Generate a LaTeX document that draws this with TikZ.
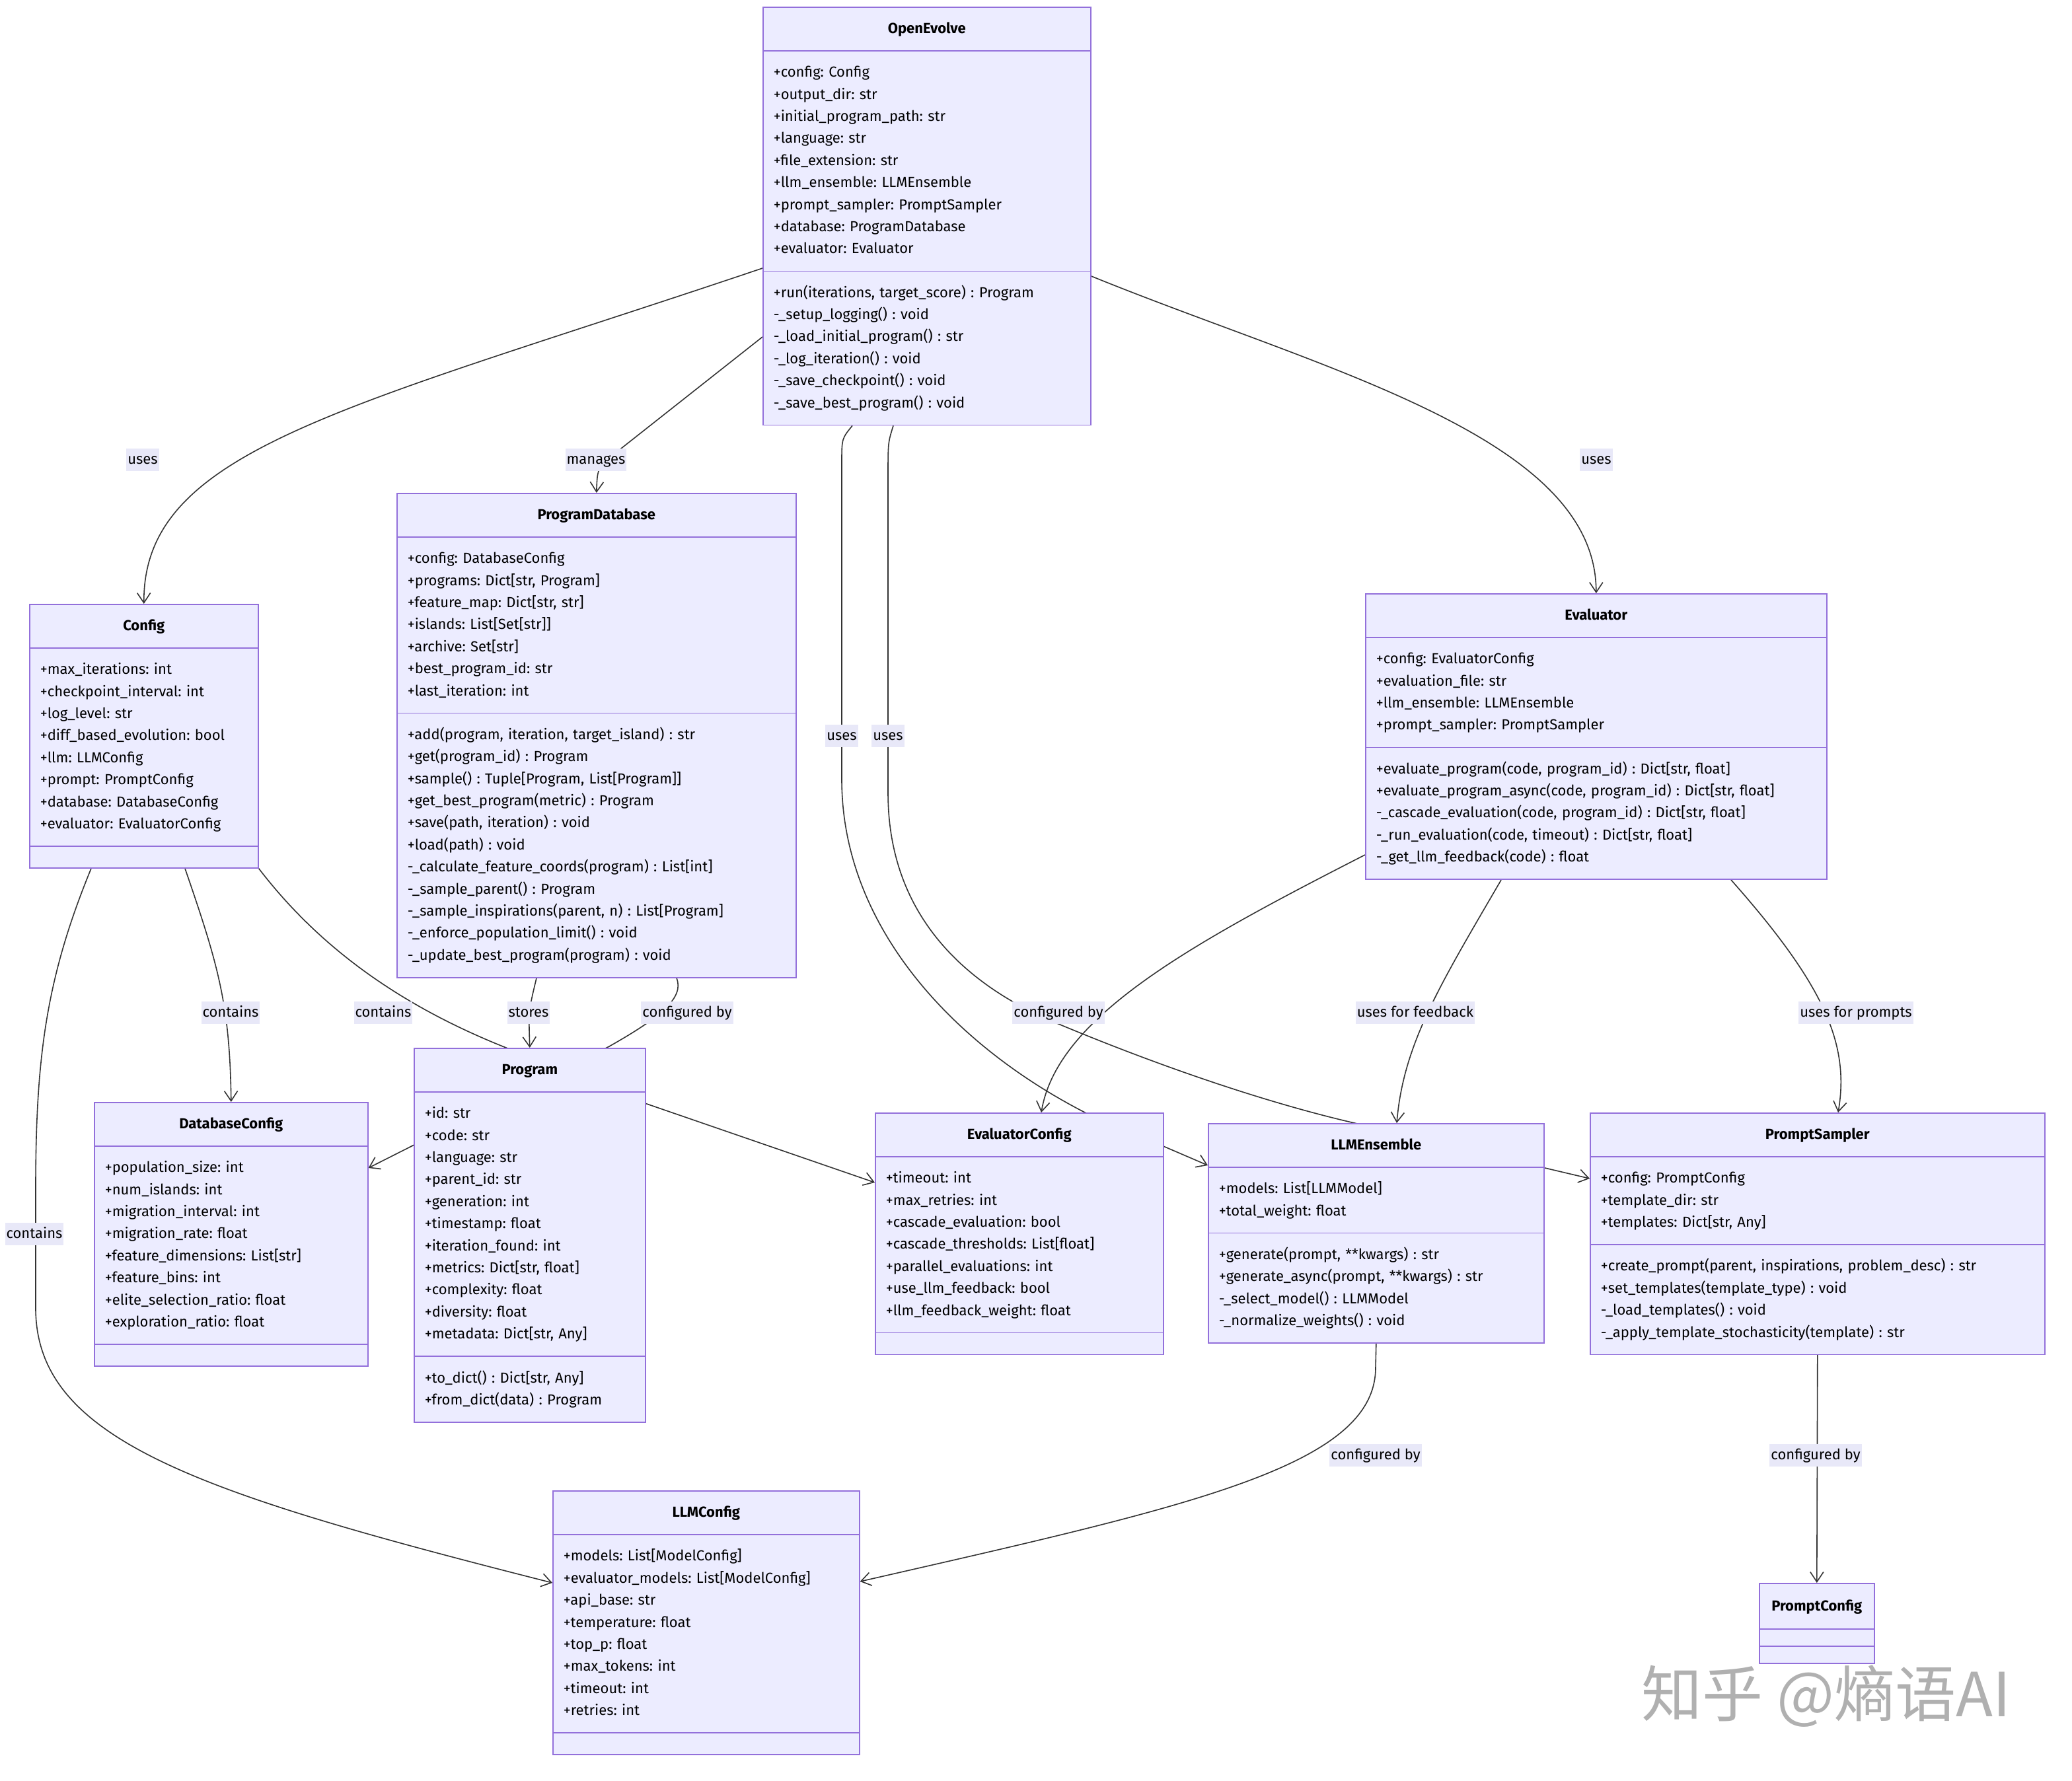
\documentclass[tikz,border=0pt]{standalone}
\usepackage{fontspec}
\setmainfont{Fira Sans}
\newfontfamily\wmfont{Noto Sans CJK SC}
\usetikzlibrary{arrows.meta}
\usetikzlibrary{shapes.multipart}
\usetikzlibrary{backgrounds}
\definecolor{umlfill}{HTML}{ECECFF}
\definecolor{umlline}{HTML}{9370DB}
\definecolor{linkcol}{HTML}{333333}
\definecolor{labfill}{HTML}{E8E8F8}
\definecolor{wmgray}{HTML}{B0B0B0}
\setlength{\parindent}{0pt}
\frenchspacing
\newcommand{\classfont}{\fontsize{11}{16.7}\selectfont}
\newcommand{\members}[1]{\begin{tabular}{@{}l@{}}#1\end{tabular}}
\newcommand{\ctitle}[1]{\makebox[\linewidth]{\textbf{#1}}\strut}
\tikzset{
  umlclass/.style={rectangle split, rectangle split parts=3,
    rectangle split empty part height=0pt, rectangle split empty part depth=0pt,
    draw=umlline, fill=umlfill, line width=0.8pt, anchor=north west,
    inner xsep=8pt, inner ysep=7.8pt, font=\classfont, text=black},
  lbl/.style={fill=labfill, inner xsep=1pt, inner ysep=0pt,
    text height=11.7pt, text depth=5pt, font=\classfont},
  link/.style={draw=linkcol, line width=0.8pt},
}

\begin{document}
\begin{tikzpicture}[x=1pt, y=-1pt, >={Straight Barb[length=7.5pt,width=10pt]}]
\useasboundingbox (0,0) rectangle (1568,1348);

\node[umlclass, text width=232pt] (OE) at (577,5) {\ctitle{OpenEvolve}
  \nodepart{two}\members{+config: Config\\ +output\_dir: str\\ +initial\_program\_path: str\\ +language: str\\ +file\_extension: str\\ +llm\_ensemble: LLMEnsemble\\ +prompt\_sampler: PromptSampler\\ +database: ProgramDatabase\\ +evaluator: Evaluator}
  \nodepart{three}\members{+run(iterations, target\_score) : Program\\ -\_setup\_logging() : void\\ -\_load\_initial\_program() : str\\ -\_log\_iteration() : void\\ -\_save\_checkpoint() : void\\ -\_save\_best\_program() : void}};

\node[umlclass, text width=157pt] (CFG) at (22,457) {\ctitle{Config}
  \nodepart{two}\members{+max\_iterations: int\\ +checkpoint\_interval: int\\ +log\_level: str\\ +diff\_based\_evolution: bool\\ +llm: LLMConfig\\ +prompt: PromptConfig\\ +database: DatabaseConfig\\ +evaluator: EvaluatorConfig}
  \nodepart{three}};

\node[umlclass, text width=286pt] (PD) at (300,373) {\ctitle{ProgramDatabase}
  \nodepart{two}\members{+config: DatabaseConfig\\ +programs: Dict[str, Program]\\ +feature\_map: Dict[str, str]\\ +islands: List[Set[str]]\\ +archive: Set[str]\\ +best\_program\_id: str\\ +last\_iteration: int}
  \nodepart{three}\members{+add(program, iteration, target\_island) : str\\ +get(program\_id) : Program\\ +sample() : Tuple[Program, List[Program]]\\ +get\_best\_program(metric) : Program\\ +save(path, iteration) : void\\ +load(path) : void\\ -\_calculate\_feature\_coords(program) : List[int]\\ -\_sample\_parent() : Program\\ -\_sample\_inspirations(parent, n) : List[Program]\\ -\_enforce\_population\_limit() : void\\ -\_update\_best\_program(program) : void}};

\node[umlclass, text width=333pt] (EV) at (1033,449) {\ctitle{Evaluator}
  \nodepart{two}\members{+config: EvaluatorConfig\\ +evaluation\_file: str\\ +llm\_ensemble: LLMEnsemble\\ +prompt\_sampler: PromptSampler}
  \nodepart{three}\members{+evaluate\_program(code, program\_id) : Dict[str, float]\\ +evaluate\_program\_async(code, program\_id) : Dict[str, float]\\ -\_cascade\_evaluation(code, program\_id) : Dict[str, float]\\ -\_run\_evaluation(code, timeout) : Dict[str, float]\\ -\_get\_llm\_feedback(code) : float}};

\node[umlclass, text width=159pt] (PRG) at (313,793) {\ctitle{Program}
  \nodepart{two}\members{+id: str\\ +code: str\\ +language: str\\ +parent\_id: str\\ +generation: int\\ +timestamp: float\\ +iteration\_found: int\\ +metrics: Dict[str, float]\\ +complexity: float\\ +diversity: float\\ +metadata: Dict[str, Any]}
  \nodepart{three}\members{+to\_dict() : Dict[str, Any]\\ +from\_dict(data) : Program}};

\node[umlclass, text width=191pt] (DBC) at (71,834) {\ctitle{DatabaseConfig}
  \nodepart{two}\members{+population\_size: int\\ +num\_islands: int\\ +migration\_interval: int\\ +migration\_rate: float\\ +feature\_dimensions: List[str]\\ +feature\_bins: int\\ +elite\_selection\_ratio: float\\ +exploration\_ratio: float}
  \nodepart{three}};

\node[umlclass, text width=202pt] (EVC) at (662,842) {\ctitle{EvaluatorConfig}
  \nodepart{two}\members{+timeout: int\\ +max\_retries: int\\ +cascade\_evaluation: bool\\ +cascade\_thresholds: List[float]\\ +parallel\_evaluations: int\\ +use\_llm\_feedback: bool\\ +llm\_feedback\_weight: float}
  \nodepart{three}};

\node[umlclass, text width=238pt] (LLME) at (914,850) {\ctitle{LLMEnsemble}
  \nodepart{two}\members{+models: List[LLMModel]\\ +total\_weight: float}
  \nodepart{three}\members{+generate(prompt, **kwargs) : str\\ +generate\_async(prompt, **kwargs) : str\\ -\_select\_model() : LLMModel\\ -\_normalize\_weights() : void}};

\node[umlclass, text width=328pt] (PS) at (1203,842) {\ctitle{PromptSampler}
  \nodepart{two}\members{+config: PromptConfig\\ +template\_dir: str\\ +templates: Dict[str, Any]}
  \nodepart{three}\members{+create\_prompt(parent, inspirations, problem\_desc) : str\\ +set\_templates(template\_type) : void\\ -\_load\_templates() : void\\ -\_apply\_template\_stochasticity(template) : str}};

\node[umlclass, text width=216pt] (LLMC) at (418,1128) {\ctitle{LLMConfig}
  \nodepart{two}\members{+models: List[ModelConfig]\\ +evaluator\_models: List[ModelConfig]\\ +api\_base: str\\ +temperature: float\\ +top\_p: float\\ +max\_tokens: int\\ +timeout: int\\ +retries: int}
  \nodepart{three}};

\node[umlclass, text width=71pt, inner ysep=6.15pt] (PC) at (1331,1198) {\makebox[\linewidth]{\rule[-7.35pt]{0pt}{21.4pt}\textbf{PromptConfig}}
  \nodepart{two}
  \nodepart{three}};

\node[lbl] (lUsesCfg) at (108,348) {uses};
\node[lbl] (lManages) at (451,348) {manages};
\node[lbl] (lUsesEv) at (1208,348) {uses};
\node[lbl] (lUsesLlm) at (637,557) {uses};
\node[lbl] (lUsesPs) at (672,557) {uses};
\node[lbl] (lContDb) at (174.5,766.5) {contains};
\node[lbl] (lContEv) at (290,766.5) {contains};
\node[lbl] (lStores) at (400,766.5) {stores};
\node[lbl] (lCfgDb) at (520,766.5) {configured by};
\node[lbl] (lCfgEv) at (801,766.5) {configured by};
\node[lbl] (lFeedback) at (1071,766.5) {uses for feedback};
\node[lbl] (lPrompts) at (1404.5,766.5) {uses for prompts};
\node[lbl] (lContLlm) at (26,934) {contains};
\node[lbl] (lCfgLlm) at (1041,1101.5) {configured by};
\node[lbl] (lCfgPc) at (1374,1101.5) {configured by};

\node[font=\wmfont\fontsize{46}{46}\selectfont, text=wmgray, inner sep=0pt] (wm) at (1382,1284) {知乎 @熵语AI};

\begin{scope}[on background layer]
\fill[white] (0,0) rectangle (1568,1348);
\draw[link,->] ([yshift=-198pt]OE.north west) .. controls (260,310) and (108,340) .. (CFG.north);
\draw[link,->] ([yshift=-250pt]OE.north west) -- (463,345) .. controls (452,355) .. (PD.north);
\draw[link,->] ([yshift=-204pt]OE.north east) .. controls (1000,280) and (1208,330) .. (EV.north);
\draw[link,->] ([xshift=68pt]OE.south west) .. controls (637,332) .. (637,350) -- (637,590)
  .. controls (637,700) and (720,790) .. (821,842) -- ([yshift=-32pt]LLME.north west);
\draw[link,->] ([xshift=99pt]OE.south west) .. controls (672,335) .. (672,360) -- (672,600)
  .. controls (672,700) and (740,750) .. (801,775) .. controls (880,808) and (960,835) .. (1025,850)
  -- ([yshift=-50pt]PS.north west);
\draw[link,->] ([yshift=-198pt]EV.north west) .. controls (900,715) and (800,770) .. ([xshift=126pt]EVC.north west);
\draw[link,->] ([xshift=103pt]EV.south west) .. controls (1090,745) and (1062,790) .. ([xshift=143pt]LLME.north west);
\draw[link,->] ([xshift=277pt]EV.south west) .. controls (1380,745) and (1400,790) .. ([xshift=188pt]PS.north west);
\draw[link,->] (LLME.south) -- (1041,1035) .. controls (1041,1110) and (900,1140) .. ([yshift=-69pt]LLMC.north east);
\draw[link,->] (PS.south) -- (PC.north);
\draw[link,->] ([xshift=47pt]CFG.south west) .. controls (35,740) and (27,800) .. (27,900) -- (27,990)
  .. controls (27,1090) and (150,1130) .. ([yshift=-70pt]LLMC.north west);
\draw[link,->] ([xshift=118pt]CFG.south west) .. controls (165,730) and (174,760) .. (DBC.north);
\draw[link,->] (CFG.south east) .. controls (240,715) and (300,760) .. (383,793) -- (488,835)
  -- ([yshift=-53pt]EVC.north west);
\draw[link,->] ([xshift=106pt]PD.south west) .. controls (400,765) .. (PRG.north);
\draw[link,->] ([xshift=212pt]PD.south west) .. controls (518,755) and (500,770) .. (461,792)
  -- ([yshift=-50pt]DBC.north east);
\end{scope}
\end{tikzpicture}
\end{document}
